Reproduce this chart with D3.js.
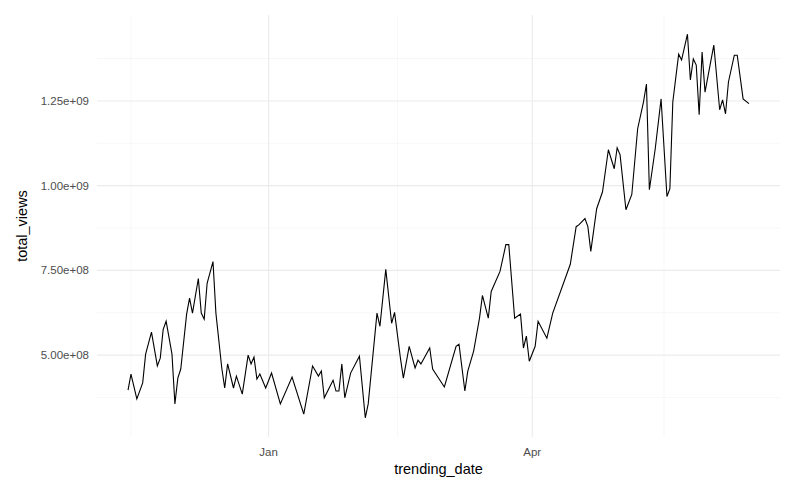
<!DOCTYPE html>
<html><head><meta charset="utf-8">
<script src="https://cdn.jsdelivr.net/npm/d3@7"></script>
<style>body{margin:0;background:#fff}text{font-family:"Liberation Sans",Arial,sans-serif}</style>
</head><body><svg id="c" width="803" height="489"></svg>
<script>
const dates=["2017-11-14","2017-11-15","2017-11-17","2017-11-19","2017-11-20","2017-11-22","2017-11-24","2017-11-25","2017-11-26","2017-11-27","2017-11-29","2017-11-30","2017-12-01","2017-12-02","2017-12-04","2017-12-05","2017-12-06","2017-12-08","2017-12-09","2017-12-10","2017-12-11","2017-12-13","2017-12-14","2017-12-16","2017-12-17","2017-12-18","2017-12-20","2017-12-21","2017-12-23","2017-12-25","2017-12-26","2017-12-27","2017-12-28","2017-12-29","2017-12-31","2018-01-02","2018-01-05","2018-01-09","2018-01-13","2018-01-16","2018-01-18","2018-01-19","2018-01-20","2018-01-23","2018-01-24","2018-01-25","2018-01-26","2018-01-27","2018-01-29","2018-02-01","2018-02-03","2018-02-04","2018-02-07","2018-02-08","2018-02-10","2018-02-12","2018-02-13","2018-02-15","2018-02-16","2018-02-18","2018-02-20","2018-02-21","2018-02-22","2018-02-25","2018-02-26","2018-03-02","2018-03-06","2018-03-07","2018-03-09","2018-03-10","2018-03-12","2018-03-14","2018-03-15","2018-03-17","2018-03-18","2018-03-21","2018-03-23","2018-03-24","2018-03-26","2018-03-28","2018-03-29","2018-03-30","2018-03-31","2018-04-02","2018-04-03","2018-04-06","2018-04-08","2018-04-14","2018-04-16","2018-04-17","2018-04-19","2018-04-20","2018-04-21","2018-04-23","2018-04-25","2018-04-27","2018-04-29","2018-04-30","2018-05-01","2018-05-03","2018-05-05","2018-05-07","2018-05-09","2018-05-10","2018-05-11","2018-05-13","2018-05-15","2018-05-17","2018-05-18","2018-05-19","2018-05-21","2018-05-22","2018-05-24","2018-05-25","2018-05-26","2018-05-27","2018-05-28","2018-05-29","2018-05-30","2018-06-02","2018-06-04","2018-06-05","2018-06-06","2018-06-07","2018-06-09","2018-06-10","2018-06-12","2018-06-14"];
const views=[3.97,4.44,3.71,4.18,5.03,5.68,4.68,4.91,5.76,6.00,5.03,3.56,4.32,4.59,6.21,6.68,6.24,7.26,6.24,6.06,7.12,7.76,6.24,4.62,4.03,4.74,4.03,4.38,3.85,5.00,4.74,4.94,4.29,4.44,4.03,4.47,3.56,4.35,3.26,4.68,4.38,4.53,3.74,4.26,3.94,3.94,4.74,3.74,4.47,4.97,3.15,3.56,6.24,5.85,7.53,5.94,6.26,4.91,4.32,5.26,4.62,4.85,4.74,5.21,4.59,4.06,5.26,5.32,3.94,4.53,5.12,6.09,6.76,6.09,6.88,7.47,8.26,8.26,6.09,6.21,5.21,5.56,4.82,5.26,6.00,5.50,6.24,7.68,8.79,8.85,9.03,8.79,8.06,9.32,9.82,11.06,10.50,11.12,10.91,9.29,9.74,11.68,12.47,13.00,9.88,11.09,12.56,9.68,9.91,12.47,13.88,13.71,14.47,13.12,13.74,13.56,12.09,13.94,12.76,14.15,12.24,12.53,12.12,13.06,13.85,13.85,12.56,12.42].map(v=>v*1e8);
const xBreaks=["2018-01-01","2018-04-01"], xLabels=["Jan","Apr"];
const xMinor=["2017-11-15","2018-02-14","2018-05-16"];
const yBreaks=[5e8,7.5e8,10e8,12.5e8], yLabels=["5.00e+08","7.50e+08","1.00e+09","1.25e+09"];
const yMinor=[3.75e8,6.25e8,8.75e8,11.25e8,13.75e8];

const P=d3.timeParse("%Y-%m-%d");
const data=dates.map((d,i)=>({d:P(d),v:views[i]}));
const L=97,R=780,T=15,B=437;
const svg=d3.select("#c");
const ext=d3.extent(data,d=>d.d), span=ext[1]-ext[0];
const x=d3.scaleTime().domain([new Date(+ext[0]-span*0.05),new Date(+ext[1]+span*0.05)]).range([L,R]);
const ye=d3.extent(views), ys=ye[1]-ye[0];
const y=d3.scaleLinear().domain([ye[0]-ys*0.05,ye[1]+ys*0.05]).range([B,T]);
const g=svg.append("g");
g.selectAll(".ym").data(yMinor).join("line").attr("x1",L).attr("x2",R).attr("y1",d=>y(d)).attr("y2",d=>y(d)).attr("stroke","#f2f2f2").attr("stroke-width",0.6);
g.selectAll(".xm").data(xMinor).join("line").attr("y1",T).attr("y2",B).attr("x1",d=>x(P(d))).attr("x2",d=>x(P(d))).attr("stroke","#f2f2f2").attr("stroke-width",0.6);
g.selectAll(".yM").data(yBreaks).join("line").attr("x1",L).attr("x2",R).attr("y1",d=>y(d)).attr("y2",d=>y(d)).attr("stroke","#ebebeb").attr("stroke-width",1.1);
g.selectAll(".xM").data(xBreaks).join("line").attr("y1",T).attr("y2",B).attr("x1",d=>x(P(d))).attr("x2",d=>x(P(d))).attr("stroke","#ebebeb").attr("stroke-width",1.1);
svg.append("path").datum(data).attr("fill","none").attr("stroke","#000").attr("stroke-width",1.1)
 .attr("d",d3.line().x(d=>x(d.d)).y(d=>y(d.v)));
svg.selectAll(".yl").data(yBreaks).join("text").attr("x",89).attr("y",d=>y(d)+4).attr("text-anchor","end").attr("font-size",11.5).attr("fill","#4d4d4d").text((d,i)=>yLabels[i]);
svg.selectAll(".xl").data(xBreaks).join("text").attr("x",d=>x(P(d))).attr("y",456).attr("text-anchor","middle").attr("font-size",11.5).attr("fill","#4d4d4d").text((d,i)=>xLabels[i]);
svg.append("text").attr("x",(L+R)/2).attr("y",474).attr("text-anchor","middle").attr("font-size",14.5).attr("fill","#000").text("trending_date");
svg.append("text").attr("transform",`translate(27,${(T+B)/2}) rotate(-90)`).attr("text-anchor","middle").attr("font-size",14.5).attr("fill","#000").text("total_views");
</script></body></html>
